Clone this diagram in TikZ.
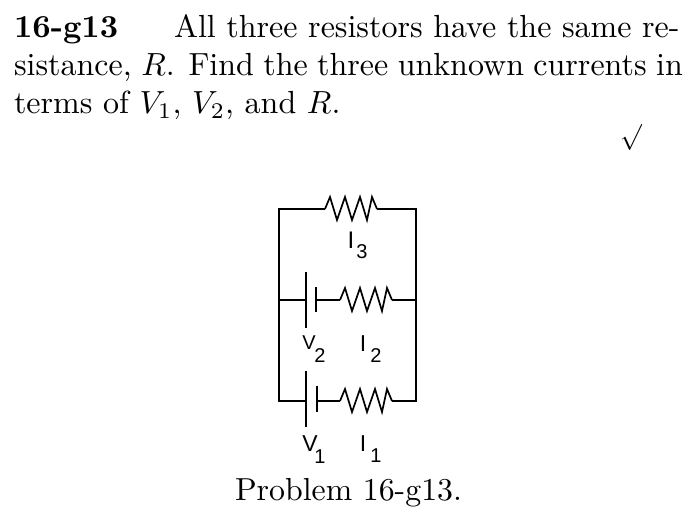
\documentclass[tikz,border=0pt]{standalone}
\usepackage{fontspec}
\newfontfamily\labelfont{Liberation Sans}
\begin{document}
\begin{tikzpicture}[x=1pt,y=-1pt,
  wire/.style={line width=1.7pt,line join=miter,line cap=butt},
  plate/.style={line width=1.5pt},
  thinwire/.style={line width=1.3pt},
  txt/.style={anchor=base west,inner sep=0pt,outer sep=0pt,scale=3.2},
  lab/.style={inner sep=0pt,outer sep=0pt,font=\labelfont\fontsize{23}{23}\selectfont},
  sub/.style={inner sep=0pt,outer sep=0pt,font=\labelfont\fontsize{20}{20}\selectfont},
  zig/.pic={\draw[wire] (0,0) -- (5,-12) -- (12,11) -- (20,-12) -- (27,11) -- (35,-12) -- (42,11) -- (47,-12) -- (52,0);}
]
\useasboundingbox (0,0) rectangle (700,513);
% text
\node[txt,font=\bfseries] (title) at (14,38) {16-g13};
\node[txt] (l1) at (174,38) {\makebox[158pt][s]{All three resistors have the same re-}};
\node[txt] (l2) at (14,76) {\makebox[209pt][s]{sistance, $R$. Find the three unknown currents in}};
\node[txt] (l3) at (14,114) {terms of $V_1$, $V_2$, and $R$.};
\node[inner sep=0pt,scale=2.6] (chk) at (631,137) {$\surd$};
\node[txt,scale=0.995] (cap) at (235,500) {Problem 16-g13.};
% junctions
\coordinate (tl) at (279,209);
\coordinate (tr) at (416,209);
\coordinate (ml) at (279,300);
\coordinate (mr) at (416,300);
\coordinate (bl) at (279,401);
\coordinate (br) at (416,401);
\coordinate (r3a) at (325,209);
\coordinate (r3b) at (377,209);
\coordinate (b2a) at (306,300);
\coordinate (b2b) at (316,300);
\coordinate (r2a) at (340,300);
\coordinate (r2b) at (392,300);
\coordinate (b1a) at (306,401);
\coordinate (b1b) at (317,401);
\coordinate (r1a) at (340,401);
\coordinate (r1b) at (392,401);
% outer loop
\draw[wire] (b1a) -- (bl) -- (tl) -- (r3a);
\draw[wire] (r3b) -- (tr) -- (br) -- (r1b);
\pic at (r3a) {zig};
% branch 2
\draw[thinwire] (ml) -- (b2a);
\draw[plate] (306,272) -- (306,328);
\draw[plate] (316,287) -- (316,312);
\draw[wire] (b2b) -- (r2a);
\pic at (r2a) {zig};
\draw[thinwire] (r2b) -- (mr);
% branch 1
\draw[plate] (306,371) -- (306,427);
\draw[plate] (317,386) -- (317,412);
\draw[wire] (b1b) -- (r1a);
\pic at (r1a) {zig};
% labels
\node[lab,font=\labelfont\fontsize{24}{24}\selectfont] (i3) at (351,240) {I};
\node[sub] (i3s) at (362,252) {3};
\node[lab,font=\labelfont\fontsize{20}{20}\selectfont] (v2) at (309,343) {V};
\node[sub] (v2s) at (320,356) {2};
\node[lab] (i2) at (363,344) {I};
\node[sub] (i2s) at (376,356) {2};
\node[lab] (v1) at (310,444) {V};
\node[sub] (v1s) at (320,457) {1};
\node[lab] (i1) at (363,444) {I};
\node[sub] (i1s) at (376,456) {1};
\end{tikzpicture}
\end{document}
